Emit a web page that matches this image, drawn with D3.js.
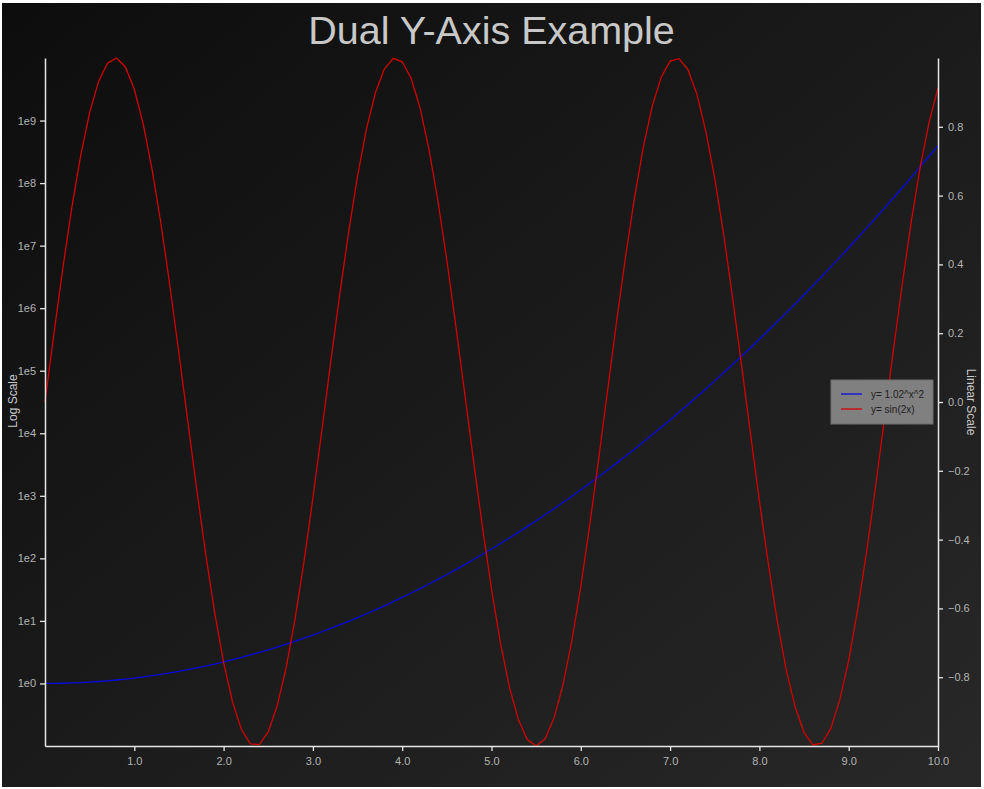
<!DOCTYPE html>
<html>
<head>
<meta charset="utf-8">
<script src="https://cdn.jsdelivr.net/npm/d3@7/dist/d3.min.js"></script>
<style>
  html, body { margin: 0; padding: 0; background: #ffffff; }
  #wrap { position: absolute; left: 2px; top: 3px; width: 979px; height: 784px; }
  svg { display: block; }
  text { font-family: "Liberation Sans", Arial, sans-serif; }
</style>
</head>
<body>
<div id="wrap"></div>
<script>
// ---- data ----
const xValues = [
  0.0,0.1,0.2,0.3,0.4,0.5,0.6,0.7,0.8,0.9,
  1.0,1.1,1.2,1.3,1.4,1.5,1.6,1.7,1.8,1.9,
  2.0,2.1,2.2,2.3,2.4,2.5,2.6,2.7,2.8,2.9,
  3.0,3.1,3.2,3.3,3.4,3.5,3.6,3.7,3.8,3.9,
  4.0,4.1,4.2,4.3,4.4,4.5,4.6,4.7,4.8,4.9,
  5.0,5.1,5.2,5.3,5.4,5.5,5.6,5.7,5.8,5.9,
  6.0,6.1,6.2,6.3,6.4,6.5,6.6,6.7,6.8,6.9,
  7.0,7.1,7.2,7.3,7.4,7.5,7.6,7.7,7.8,7.9,
  8.0,8.1,8.2,8.3,8.4,8.5,8.6,8.7,8.8,8.9,
  9.0,9.1,9.2,9.3,9.4,9.5,9.6,9.7,9.8,9.9,
  10.0
];
// blue series: y = 1.02^x^2 (left, log scale)
const expValues = [
  1, 1.002, 1.008, 1.018, 1.032, 1.051, 1.074, 1.102, 1.135, 1.174,
  1.219, 1.271, 1.330, 1.398, 1.474, 1.561, 1.660, 1.772, 1.900, 2.044,
  2.208, 2.394, 2.608, 2.851, 3.129, 3.447, 3.814, 4.237, 4.724, 5.287,
  5.943, 6.706, 7.598, 8.641, 9.867, 11.31, 13.02, 15.04, 17.45, 20.32,
  23.77, 27.91, 32.89, 38.92, 46.24, 55.15, 66.04, 79.39, 95.83, 116.1,
  141.3, 172.6, 211.6, 260.5, 322.0, 399.5, 497.8, 622.5, 781.9, 985.4,
  1248, 1586, 2023, 2590, 3332, 4301, 5575, 7255, 9483, 12430,
  16370, 21650, 28730, 38290, 51220, 68800, 92780, 125600, 170800, 233100,
  319300, 439100, 606500, 840600, 1170000, 1635000, 2295000, 3232000, 4571000, 6490000,
  9251000, 1.324e7, 1.902e7, 2.744e7, 3.973e7, 5.776e7, 8.431e7, 1.236e8, 1.818e8, 2.686e8,
  3.982e8
];
// red series: y = sin(2x) (right, linear scale)
const sinValues = [
  0.000, 0.199, 0.389, 0.565, 0.717, 0.841, 0.932, 0.985, 1.000, 0.974,
  0.909, 0.808, 0.675, 0.516, 0.335, 0.141, -0.058, -0.256, -0.443, -0.612,
  -0.757, -0.872, -0.952, -0.994, -0.996, -0.959, -0.883, -0.773, -0.631, -0.465,
  -0.279, -0.083, 0.117, 0.312, 0.494, 0.657, 0.794, 0.899, 0.968, 0.999,
  0.989, 0.941, 0.855, 0.734, 0.585, 0.412, 0.223, 0.025, -0.174, -0.366,
  -0.544, -0.700, -0.828, -0.922, -0.981, -1.000, -0.979, -0.919, -0.823, -0.694,
  -0.537, -0.358, -0.166, 0.034, 0.232, 0.420, 0.592, 0.741, 0.860, 0.944,
  0.991, 0.998, 0.966, 0.895, 0.787, 0.650, 0.487, 0.303, 0.107, -0.092,
  -0.288, -0.470, -0.637, -0.778, -0.886, -0.961, -0.997, -0.992, -0.949, -0.866,
  -0.751, -0.604, -0.436, -0.247, -0.050, 0.150, 0.343, 0.523, 0.682, 0.813,
  0.913
];
const xTicks = [1,2,3,4,5,6,7,8,9,10];
const logTicks = [1e0,1e1,1e2,1e3,1e4,1e5,1e6,1e7,1e8,1e9];
const linTicks = [-0.8,-0.6,-0.4,-0.2,0.0,0.2,0.4,0.6,0.8];
const legendLabels = ["y= 1.02^x^2", "y= sin(2x)"];
const titleText = "Dual Y-Axis Example";

// ---- layout ----
const W = 979, H = 784;
const ox = 2, oy = 3; // wrap offset in page
const plot = { left: 45 - ox, right: 938 - ox, top: 58 - oy, bottom: 746 - oy };

const svg = d3.select("#wrap").append("svg").attr("width", W).attr("height", H);
const defs = svg.append("defs");
const grad = defs.append("linearGradient").attr("id", "bg")
  .attr("x1", "0%").attr("y1", "0%").attr("x2", "100%").attr("y2", "100%");
grad.append("stop").attr("offset", "0%").attr("stop-color", "#0d0d0d");
grad.append("stop").attr("offset", "100%").attr("stop-color", "#282828");
svg.append("rect").attr("width", W).attr("height", H).attr("fill", "url(#bg)");

const x = d3.scaleLinear().domain([0, 10]).range([plot.left, plot.right]);
const yLog = d3.scaleLog().domain([1e-1, 1e10]).range([plot.bottom, plot.top]);
const yLin = d3.scaleLinear().domain([-1, 1]).range([plot.bottom, plot.top]);

// title
svg.append("text").attr("x", 491.5 - ox).attr("y", 44 - oy)
  .attr("text-anchor", "middle").attr("fill", "#c8c8c8")
  .style("font-size", "39.5px").text(titleText);

// lines
const expLine = d3.line().x((d, i) => x(xValues[i])).y(d => yLog(d));
const sinLine = d3.line().x((d, i) => x(xValues[i])).y(d => yLin(d));
svg.append("path").datum(expValues).attr("d", expLine)
  .attr("fill", "none").attr("stroke", "#0a0ae0").attr("stroke-width", 1.3);
svg.append("path").datum(sinValues).attr("d", sinLine)
  .attr("fill", "none").attr("stroke", "#d40000").attr("stroke-width", 1.3);

// axes
function styleAxis(g) {
  g.select(".domain").attr("stroke", "#e6e6e6").attr("stroke-width", 1.5);
  g.selectAll(".tick line").attr("stroke", "#e6e6e6").attr("stroke-width", 1.3);
  g.selectAll(".tick text").attr("fill", "#b4b4b4").style("font-size", "11px")
    .style("font-family", "'Liberation Sans', Arial, sans-serif");
}
const xAxis = svg.append("g").attr("transform", `translate(0,${plot.bottom})`)
  .call(d3.axisBottom(x).tickValues(xTicks).tickFormat(d3.format(".1f")).tickSize(5).tickSizeOuter(0).tickPadding(6));
styleAxis(xAxis);
const lAxis = svg.append("g").attr("transform", `translate(${plot.left},0)`)
  .call(d3.axisLeft(yLog).tickValues(logTicks)
    .tickFormat(d => "1e" + Math.round(Math.log10(d))).tickSize(5).tickSizeOuter(0).tickPadding(4));
styleAxis(lAxis);
const rAxis = svg.append("g").attr("transform", `translate(${plot.right},0)`)
  .call(d3.axisRight(yLin).tickValues(linTicks).tickFormat(d3.format(".1f")).tickSize(5).tickSizeOuter(0).tickPadding(5));
styleAxis(rAxis);

// axis titles
svg.append("text").attr("transform", `translate(${17 - ox},${401 - oy}) rotate(-90)`)
  .attr("text-anchor", "middle").attr("fill", "#c8c8c8").style("font-size", "12px").text("Log Scale");
svg.append("text").attr("transform", `translate(${967 - ox},${402 - oy}) rotate(90)`)
  .attr("text-anchor", "middle").attr("fill", "#c8c8c8").style("font-size", "12px").text("Linear Scale");

// legend
const lg = svg.append("g").attr("transform", `translate(${831 - ox},${380 - oy})`);
lg.append("rect").attr("width", 102).attr("height", 44).attr("fill", "#808080")
  .attr("stroke", "#6e6e6e").attr("stroke-width", 1);
const legColors = ["#0a0ae0", "#d40000"];
legendLabels.forEach((t, i) => {
  const yy = 14 + i * 15;
  lg.append("line").attr("x1", 10).attr("x2", 31).attr("y1", yy).attr("y2", yy)
    .attr("stroke", legColors[i]).attr("stroke-width", 1.3);
  lg.append("text").attr("x", 40).attr("y", yy + 3.5).attr("fill", "#1e1e1e")
    .style("font-size", "10px").text(t);
});
</script>
</body>
</html>
